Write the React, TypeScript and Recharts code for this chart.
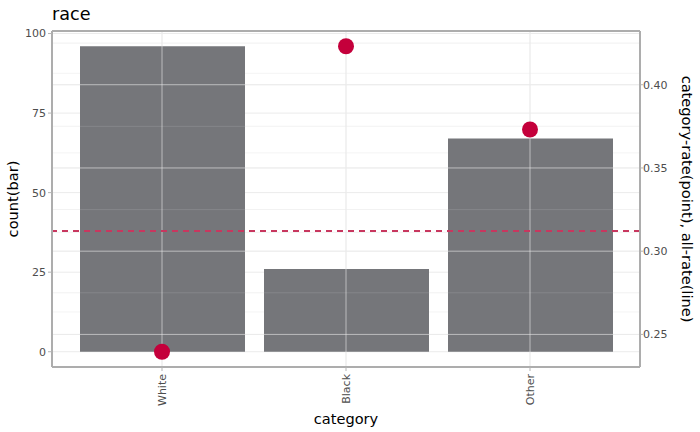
import React from "react";
import {
  Bar,
  CartesianGrid,
  ComposedChart,
  ReferenceLine,
  Scatter,
  XAxis,
  YAxis,
} from "recharts";

const categories = ["White", "Black", "Other"];
const counts = [96, 26, 67];
const rates = [0.2396, 0.4231, 0.3731];
const allRate = 0.3122;

const countTicks = [0, 25, 50, 75, 100];
const countMinorTicks = [12.5, 37.5, 62.5, 87.5];
const rateTicks = [0.25, 0.3, 0.35, 0.4];
const rateMinorTicks = [0.275, 0.325, 0.375, 0.425];

const BAR_COLOR = "#75767a";
const POINT_COLOR = "#c4003b";
const LINE_COLOR = "#c8375f";
const BORDER = "#adadad";
const TEXT = "#4d4d4d";
const FONT = "'DejaVu Sans', sans-serif";

const data = categories.map((category, i) => ({
  category,
  count: counts[i],
  rate: rates[i],
}));

// ggplot style 5% expansion on the count range, rate axis mapped onto it
const countMax = Math.max(...counts);
const countPad = countMax * 0.05;
const countDomain: [number, number] = [-countPad, countMax + countPad];
const rateMin = Math.min(...rates);
const rateMax = Math.max(...rates);
const toRate = (c: number): number => rateMin + (c * (rateMax - rateMin)) / countMax;
const rateDomain: [number, number] = [toRate(countDomain[0]), toRate(countDomain[1])];

const XTick = (props: any): React.JSX.Element => {
  const { x, y, payload } = props;
  return (
    <text
      transform={`translate(${x},${y}) rotate(-90)`}
      textAnchor="end"
      dy="0.35em"
      fontSize={11}
      fill={TEXT}
    >
      {payload.value}
    </text>
  );
};

const ChartTitle = (props: any): React.JSX.Element => {
  const vb = props.viewBox ?? { x: 52, y: 30 };
  return (
    <text x={vb.x} y={vb.y - 10} fontSize={17.6} fill="#000">
      race
    </text>
  );
};

const XTitle = (props: any): React.JSX.Element => {
  const vb = props.viewBox ?? { x: 52, y: 367, width: 588, height: 65 };
  return (
    <text x={vb.x + vb.width / 2} y={vb.y + 57} textAnchor="middle" fontSize={14.6} fill="#000">
      category
    </text>
  );
};

const LeftTitle = (props: any): React.JSX.Element => {
  const vb = props.viewBox ?? { x: 0, y: 31, width: 52, height: 336 };
  const cx = vb.x + 12.5;
  const cy = vb.y + vb.height / 2;
  return (
    <text
      x={cx}
      y={cy}
      transform={`rotate(-90 ${cx} ${cy})`}
      textAnchor="middle"
      dominantBaseline="central"
      fontSize={14.6}
      fill="#000"
    >
      count(bar)
    </text>
  );
};

const RightTitle = (props: any): React.JSX.Element => {
  const vb = props.viewBox ?? { x: 640, y: 31, width: 60, height: 336 };
  const cx = vb.x + 47;
  const cy = vb.y + vb.height / 2;
  return (
    <text
      x={cx}
      y={cy}
      transform={`rotate(90 ${cx} ${cy})`}
      textAnchor="middle"
      dominantBaseline="central"
      fontSize={14.6}
      fill="#000"
    >
      category-rate(point), all-rate(line)
    </text>
  );
};

export default function App(): React.JSX.Element {
  return (
    <div style={{ position: "absolute", left: 0, top: 0, fontFamily: FONT }}>
      <ComposedChart
        width={700}
        height={432}
        data={data}
        margin={{ top: 30, right: 0, bottom: 0, left: 0 }}
      >
        <CartesianGrid
          xAxisId="cat"
          yAxisId="count"
          horizontalValues={countMinorTicks}
          vertical={false}
          stroke="#f4f4f4"
          strokeWidth={1}
        />
        <CartesianGrid
          xAxisId="cat"
          yAxisId="rate"
          horizontalValues={rateMinorTicks}
          vertical={false}
          stroke="#f4f4f4"
          strokeWidth={1}
        />
        <CartesianGrid
          xAxisId="cat"
          yAxisId="count"
          horizontalValues={countTicks}
          stroke="#ebebeb"
          strokeWidth={1}
        />
        <CartesianGrid
          xAxisId="cat"
          yAxisId="rate"
          horizontalValues={rateTicks}
          vertical={false}
          stroke="#ebebeb"
          strokeWidth={1}
        />

        <XAxis
          xAxisId="cat"
          dataKey="category"
          type="category"
          height={65}
          padding={{ left: 18, right: 18 }}
          axisLine={{ stroke: BORDER, strokeWidth: 2 }}
          tickLine={{ stroke: "#b3b3b3" }}
          tickSize={4}
          tickMargin={3}
          interval={0}
          tick={<XTick />}
          label={<XTitle />}
        />
        <XAxis
          xAxisId="top"
          dataKey="category"
          orientation="top"
          height={1}
          tick={false}
          tickLine={false}
          axisLine={{ stroke: BORDER, strokeWidth: 2 }}
          label={<ChartTitle />}
        />
        <YAxis
          yAxisId="count"
          type="number"
          width={52}
          domain={countDomain}
          ticks={countTicks}
          interval={0}
          allowDataOverflow
          axisLine={{ stroke: BORDER, strokeWidth: 2 }}
          tickLine={{ stroke: "#b3b3b3" }}
          tickSize={4}
          tickMargin={2}
          tick={{ fontSize: 11, fill: TEXT }}
          label={<LeftTitle />}
        />
        <YAxis
          yAxisId="rate"
          orientation="right"
          type="number"
          width={60}
          domain={rateDomain}
          ticks={rateTicks}
          interval={0}
          allowDataOverflow
          axisLine={{ stroke: BORDER, strokeWidth: 2 }}
          tickLine={{ stroke: "#b3b3b3" }}
          tickSize={3}
          tickMargin={0}
          tick={{ fontSize: 11, fill: TEXT }}
          tickFormatter={(v: number) => v.toFixed(2)}
          label={<RightTitle />}
        />

        <Bar
          xAxisId="cat"
          yAxisId="count"
          dataKey="count"
          fill={BAR_COLOR}
          barSize={165}
          isAnimationActive={false}
        />

        {rateTicks.map((t) => (
          <ReferenceLine
            key={`rmaj-${t}`}
            xAxisId="cat"
            yAxisId="rate"
            y={t}
            stroke="#ebebeb"
            strokeOpacity={0.6}
          />
        ))}
        {rateMinorTicks.map((t) => (
          <ReferenceLine
            key={`rmin-${t}`}
            xAxisId="cat"
            yAxisId="rate"
            y={t}
            stroke="#ebebeb"
            strokeOpacity={0.14}
          />
        ))}
        {categories.map((c) => (
          <ReferenceLine
            key={`v-${c}`}
            xAxisId="cat"
            yAxisId="count"
            x={c}
            stroke="#ebebeb"
            strokeOpacity={0.6}
          />
        ))}

        <ReferenceLine
          xAxisId="cat"
          yAxisId="rate"
          y={allRate}
          stroke={LINE_COLOR}
          strokeWidth={2}
          strokeDasharray="6 5"
        />

        <Scatter
          xAxisId="cat"
          yAxisId="rate"
          dataKey="rate"
          fill={POINT_COLOR}
          isAnimationActive={false}
          shape={(p: any) => <circle cx={p.cx} cy={p.cy} r={8} fill={POINT_COLOR} />}
        />
      </ComposedChart>
    </div>
  );
}
